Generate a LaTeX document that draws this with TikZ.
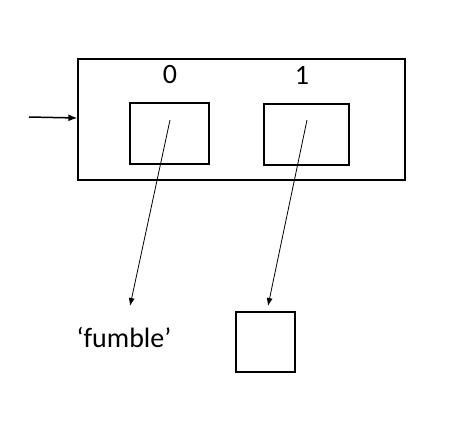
\documentclass[tikz,border=0pt]{standalone}
\usepackage{fontspec}
\setmainfont{Carlito}
\usetikzlibrary{arrows.meta}
\begin{document}
\begin{tikzpicture}[x=1pt,y=-1pt,
  boxline/.style={draw,line width=1.3pt,inner sep=0pt},
  ptr/.style={line width=0.8pt,-{Latex[length=8pt,width=6pt]}},
  lbl/.style={font=\fontsize{28}{32}\selectfont,inner sep=0pt}]
\useasboundingbox (0,0) rectangle (474,432);
\node[boxline,minimum width=327pt,minimum height=121pt] (outer) at (241.5,119.5) {};
\node[boxline,minimum width=79pt,minimum height=61pt] (c0) at (169.5,133.5) {};
\node[boxline,minimum width=85pt,minimum height=61pt] (c1) at (306.5,134.5) {};
\node[lbl] (l0) at (170,75) {0};
\node[lbl] (l1) at (302,75) {1};
\coordinate (in) at (29,117);
\draw[line width=1.5pt,-{Latex[length=9pt,width=7pt]}] (in) -- (outer.west |- 0,118);
\coordinate (s0) at (170,120);
\coordinate (s1) at (307,120);
\coordinate (t0) at (130,306);
\coordinate (t1) at (268,306);
\node[lbl] (str) at (124,337) {‘fumble’};
\node[boxline,minimum width=59pt,minimum height=60pt] (obj) at (265.5,342) {};
\draw[ptr] (s0) -- (t0);
\draw[ptr] (s1) -- (t1);
\end{tikzpicture}
\end{document}
